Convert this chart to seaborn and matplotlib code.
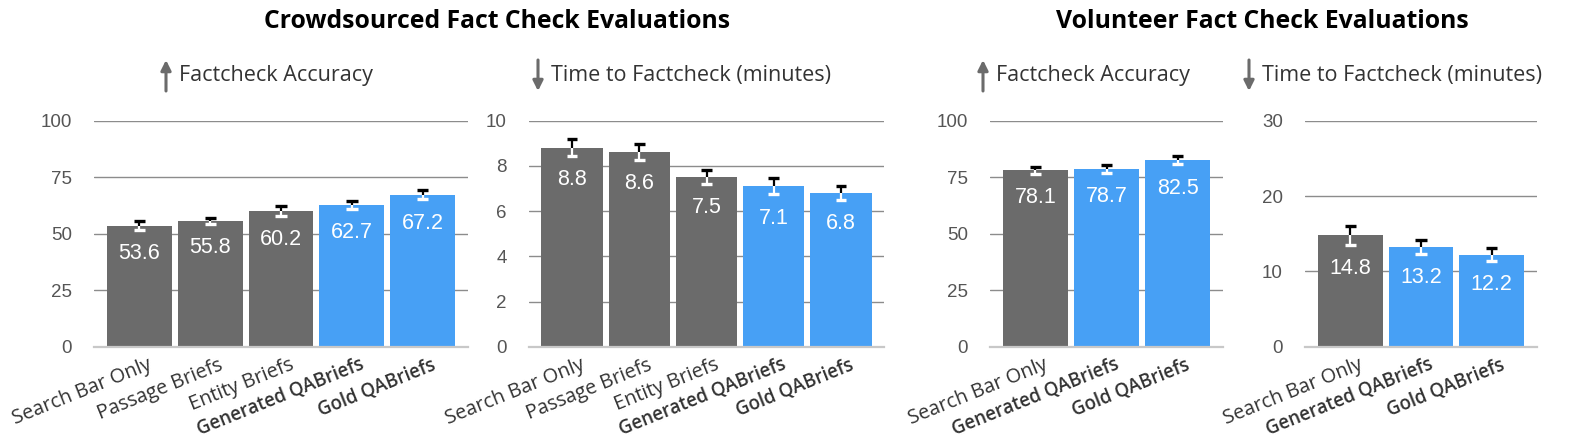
import numpy as np
import matplotlib.pyplot as plt
import matplotlib.transforms as mtransforms
import seaborn as sns

# ---- data ----
crowd_labels = ["Search Bar Only", "Passage Briefs", "Entity Briefs",
                "Generated QABriefs", "Gold QABriefs"]
crowd_accuracy = [53.6, 55.8, 60.2, 62.7, 67.2]
crowd_accuracy_err = [1.8, 1.3, 2.2, 1.6, 2.0]
crowd_time = [8.8, 8.6, 7.5, 7.1, 6.8]
crowd_time_err = [0.37, 0.35, 0.30, 0.36, 0.31]

vol_labels = ["Search Bar Only", "Generated QABriefs", "Gold QABriefs"]
vol_accuracy = [78.1, 78.7, 82.5]
vol_accuracy_err = [1.6, 1.8, 1.8]
vol_time = [14.8, 13.2, 12.2]
vol_time_err = [1.25, 0.9, 0.85]

acc_ticks = [0, 25, 50, 75, 100]
crowd_time_ticks = [0, 2, 4, 6, 8, 10]
vol_time_ticks = [0, 10, 20, 30]

ours = ["Generated QABriefs", "Gold QABriefs"]

GRAY = "#6b6b6b"
BLUE = "#47a0f5"

sns.set_style("white")
plt.rcParams["font.family"] = ["Open Sans", "DejaVu Sans"]

fig = plt.figure(figsize=(15.78, 4.47), dpi=100)
W, H = 1578, 447


def panel(left, right, labels, values, errs, ticks):
    ax = fig.add_axes([left / W, 1 - 346.7 / H, (right - left) / W, 226 / H])
    colors = [BLUE if l in ours else GRAY for l in labels]
    sns.barplot(x=labels, y=values, hue=labels, palette=colors, legend=False,
                width=0.915, saturation=1, edgecolor="none", ax=ax)
    n = len(values)
    ax.set_xlim(-0.64, n - 1 + 0.64)
    ax.set_ylim(0, ticks[-1])
    ax.set_yticks(ticks)
    ax.set_xlabel("")
    ax.set_ylabel("")

    # error bars: black above the bar top, white inside the bar
    x = np.arange(n)
    v = np.array(values)
    e = np.array(errs)
    cap = 0.08
    ax.vlines(x, v, v + e, color="black", lw=1.6, zorder=4)
    ax.hlines(v + e, x - cap, x + cap, color="black", lw=2.4, zorder=4)
    ax.vlines(x, v - e, v, color="white", lw=1.6, zorder=4)
    ax.hlines(v - e, x - cap, x + cap, color="white", lw=2.4, zorder=4)

    for xi, val, err in zip(x, values, errs):
        ax.annotate(f"{val}", (xi, val - err), xytext=(0, -9.5),
                    textcoords="offset points", ha="center", va="top",
                    color="white", fontsize=15.5, family="Liberation Sans")

    ax.set_axisbelow(True)
    ax.yaxis.grid(True, color="#8c8c8c", lw=1)
    for s in ["top", "right", "left"]:
        ax.spines[s].set_visible(False)
    ax.spines["bottom"].set_color("#c8c8c8")
    ax.spines["bottom"].set_linewidth(1.6)

    ax.tick_params(axis="y", length=0, pad=16, labelsize=13.5, labelcolor="#555555")
    for t in ax.get_yticklabels():
        t.set_family("Liberation Sans")
    ax.tick_params(axis="x", length=0, pad=6)
    ax.set_xticks(x)
    ax.set_xticklabels(labels, rotation=22, ha="right", rotation_mode="anchor",
                       fontsize=14.3, color="#333333")
    shift = mtransforms.ScaledTranslation(8 / 100, 0, fig.dpi_scale_trans)
    for t in ax.get_xticklabels():
        t.set_transform(t.get_transform() + shift)
        if t.get_text() in ours:
            t.set_fontweight("semibold")
            t.set_fontsize(13.4)
    return ax


panel(94, 468, crowd_labels, crowd_accuracy, crowd_accuracy_err, acc_ticks)
panel(529, 884, crowd_labels, crowd_time, crowd_time_err, crowd_time_ticks)
panel(990, 1223, vol_labels, vol_accuracy, vol_accuracy_err, acc_ticks)
panel(1305, 1537, vol_labels, vol_time, vol_time_err, vol_time_ticks)

# titles
fig.text(497 / W, 1 - 22 / H, "Crowdsourced Fact Check Evaluations",
         ha="center", va="center", fontsize=17.8, fontweight="bold", color="black")
fig.text(1262 / W, 1 - 22 / H, "Volunteer Fact Check Evaluations",
         ha="center", va="center", fontsize=17.8, fontweight="bold", color="black")

# metric subtitles with arrows
subs = [(166, True, "Factcheck Accuracy"),
        (538, False, "Time to Factcheck (minutes)"),
        (983, True, "Factcheck Accuracy"),
        (1249, False, "Time to Factcheck (minutes)")]
for xp, up, txt in subs:
    y_top, y_bot = H - 60, H - 91
    start, end = ((xp, y_bot), (xp, y_top)) if up else ((xp, y_top), (xp, y_bot))
    fig.add_artist(plt.Annotation(
        "", xy=end, xytext=start, xycoords="figure pixels", textcoords="figure pixels",
        arrowprops=dict(arrowstyle="-|>,head_length=0.6,head_width=0.3",
                        color="#6b6b6b", lw=2.2, shrinkA=0, shrinkB=0)))
    fig.text((xp + 13) / W, 1 - 76 / H, txt, ha="left", va="center",
             fontsize=15.5, color="#333333")

fig.savefig("out.png", dpi=100)
